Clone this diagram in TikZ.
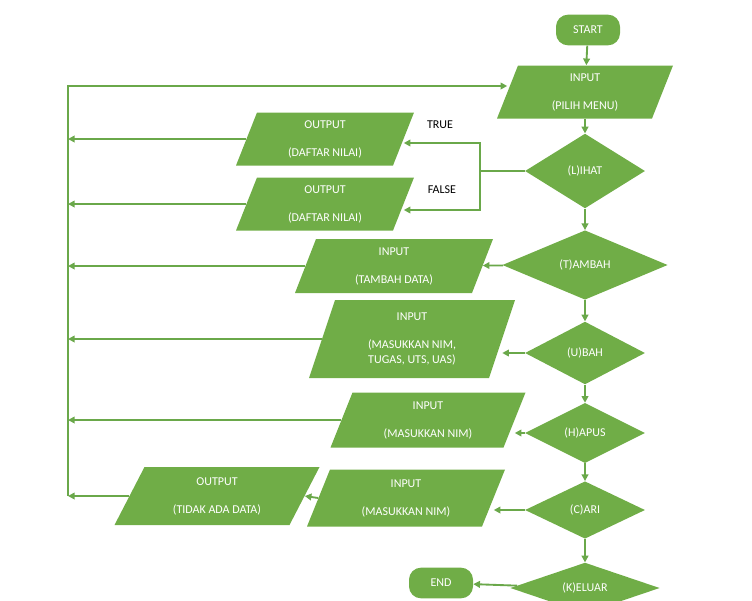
\documentclass[tikz,border=0pt]{standalone}
\usepackage{fontspec}
\setmainfont{Carlito}
\usetikzlibrary{shapes.geometric,arrows.meta}
\definecolor{gf}{HTML}{70AD47}
\definecolor{gl}{HTML}{6AA84A}
\tikzset{
  base/.style={fill=gf,text=white,font=\fontsize{9}{11}\selectfont,align=center,inner sep=0pt},
  term/.style={base,rounded corners=9pt,minimum width=48pt,minimum height=23pt},
  dec/.style={base,diamond,minimum width=#1,minimum height=46pt},
  io/.style={inner sep=0pt,text=white,font=\fontsize{9}{11}\selectfont,align=center},
  ln/.style={draw=gl,line width=1.4pt},
  arr/.style={ln,-{Triangle[length=5pt,width=5pt]}},
  lbl/.style={font=\fontsize{9}{11}\selectfont,text=black}
}
% \para{name}{cx}{cy}{w}{h}{slant}{text}
\newcommand{\para}[7]{%
  \fill[gf] ({#2-#4/2+#6/2},{#3-#5/2}) -- ({#2+#4/2+#6/2},{#3-#5/2}) -- ({#2+#4/2-#6/2},{#3+#5/2}) -- ({#2-#4/2-#6/2},{#3+#5/2}) -- cycle;
  \node[io,minimum width=#4*0.75pt,minimum height=#5*0.75pt] (#1) at (#2,#3) {#7};}
\begin{document}
\begin{tikzpicture}[x=0.75pt,y=-0.75pt]
\useasboundingbox (0,0) rectangle (752,600);
\clip (0,0) rectangle (752,600);
\node[term] (start) at (588,30) {START};
\para{pilih}{585}{92}{155}{53}{21}{INPUT\\[10pt](PILIH MENU)}
\node[dec=90pt,minimum height=56pt,aspect=1.6] (lihat) at (585,171) {(L)IHAT};
\node[dec=124pt,minimum height=52pt,aspect=2.5] (tambah) at (585,265) {(T)AMBAH};
\node[dec=90pt,minimum height=47pt,aspect=1.9] (ubah) at (585,353) {(U)BAH};
\node[dec=90pt,minimum height=45pt,aspect=2] (hapus) at (585,433) {(H)APUS};
\node[dec=90pt,minimum height=43pt,aspect=2.1] (cari) at (585,510) {(C)ARI};
\node[dec=112pt,minimum height=38pt,aspect=2.9] (keluar) at (585,588) {(K)ELUAR};
\node[term] (end) at (441,583) {END};
\para{out1}{325}{139}{157}{53}{21}{OUTPUT\\[10pt](DAFTAR NILAI)}
\para{out2}{325}{204}{157}{53}{21}{OUTPUT\\[10pt](DAFTAR NILAI)}
\para{intambah}{394}{266}{177}{54}{21}{INPUT\\[10pt](TAMBAH DATA)}
\para{inubah}{412}{339}{180}{78}{26}{INPUT\\[10pt](MASUKKAN NIM,\\TUGAS, UTS, UAS)}
\para{inhapus}{428}{420}{173}{55}{22}{INPUT\\[10pt](MASUKKAN NIM)}
\para{incari}{406}{498}{175}{57}{23}{INPUT\\[10pt](MASUKKAN NIM)}
\para{outtidak}{217}{496}{175}{58}{30}{OUTPUT\\[10pt](TIDAK ADA DATA)}
\node[lbl] (t) at (440,125) {TRUE};
\node[lbl] (f) at (442,190) {FALSE};
\coordinate (lx) at (68,0);
\coordinate (split) at (480,0);
% main flow
\draw[arr] (start) -- (pilih);
\draw[arr] (pilih) -- (lihat);
\draw[arr] (lihat) -- (tambah);
\draw[arr] (tambah) -- (ubah);
\draw[arr] (ubah) -- (hapus);
\draw[arr] (hapus) -- (cari);
\draw[arr] (cari) -- (keluar);
\draw[arr] (keluar) -- (end);
% lihat branches
\draw[ln] (lihat.west) -- (split |- lihat.west);
\draw[arr] (split |- lihat.west) |- (out1.east |- 0,143);
\draw[arr] (split |- lihat.west) |- (out2.east |- 0,210);
\draw[arr] (tambah) -- (intambah);
\draw[arr] (ubah) -- (inubah.east |- ubah);
\draw[arr] (hapus) -- (inhapus.east |- hapus);
\draw[arr] (cari) -- (incari.east |- cari);
\draw[arr] (incari.west) -- (outtidak.east);
% returns to left bus
\draw[arr] (out1.west) -- (lx |- out1.west);
\draw[arr] (out2.west) -- (lx |- out2.west);
\draw[arr] (intambah.west) -- (lx |- intambah.west);
\draw[arr] (inubah.west) -- (lx |- inubah.west);
\draw[arr] (inhapus.west) -- (lx |- inhapus.west);
\draw[arr] (outtidak.west) -- (lx |- outtidak.west);
\draw[arr] (lx |- outtidak.west) -- (68,86) -- (pilih.west |- 0,86);
\end{tikzpicture}
\end{document}
